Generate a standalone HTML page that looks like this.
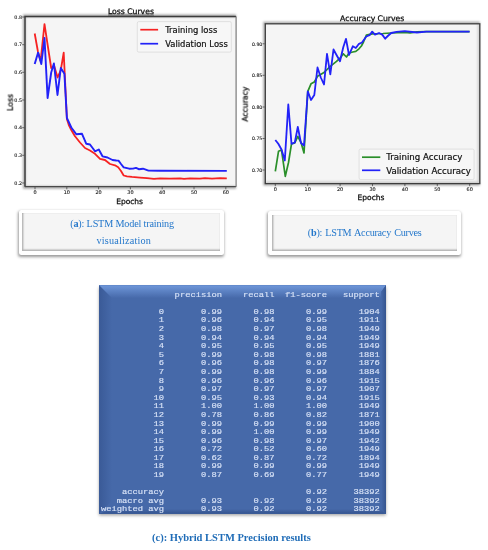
<!DOCTYPE html>
<html lang="en"><head><meta charset="utf-8"><title>LSTM figure</title>
<style>
html,body{margin:0;padding:0;background:#fff;}
body{width:488px;height:550px;position:relative;overflow:hidden;}
.cap{position:absolute;box-sizing:border-box;background:#fff;border-radius:2.5px;
 box-shadow:-0.3px 1.3px 3px rgba(0,0,0,.4);
 font-family:"Liberation Serif","DejaVu Serif",serif;color:#2377cb;text-align:center;font-size:9.4px;}
.cap i{position:absolute;left:3.7px;top:3px;right:3.7px;bottom:3.5px;background:#f5f5f5;box-shadow:inset 1.4px -1.4px 1.4px rgba(0,0,0,.27), inset -0.5px 0.5px 0.8px rgba(0,0,0,.06)}
.cap span{position:absolute;left:0;right:0;white-space:nowrap;filter:blur(.25px);font-size:10.2px}
#tbl{position:absolute;left:99px;top:285px;width:286.6px;height:228.8px;background:#4669a9;
 box-shadow:0 1.5px 3px rgba(0,0,0,.35);overflow:hidden}
#tbl pre{position:absolute;margin:0;left:1.7px;top:5.6px;font-family:"Liberation Mono","DejaVu Sans Mono",monospace;
 font-size:7.6px;line-height:8.6px;color:#d6e1f6;filter:blur(.38px);transform:scaleX(1.154);transform-origin:0 0;-webkit-text-stroke:0.16px #d6e1f6}
.bev{position:absolute}
#capc{position:absolute;left:152px;top:530.7px;white-space:nowrap;font-family:"Liberation Serif","DejaVu Serif",serif;font-weight:bold;font-size:10.5px;color:#1f6cb7;line-height:13px;filter:blur(.25px)}
</style></head><body>
<svg width="488" height="208" viewBox="0 0 488 208" style="position:absolute;left:0;top:0" font-family="'DejaVu Sans','Liberation Sans',sans-serif" fill="#111">
<defs>
<filter id="b" x="-5%" y="-5%" width="110%" height="110%"><feGaussianBlur stdDeviation="0.4"/></filter>
<filter id="b3" x="-20%" y="-20%" width="140%" height="140%"><feGaussianBlur stdDeviation="0.38"/></filter>
<filter id="b2" x="-5%" y="-5%" width="110%" height="110%"><feGaussianBlur stdDeviation="1.1"/></filter>
</defs>
<!-- loss chart -->
<rect x="25.0" y="16.5" width="211.1" height="170.2" fill="#f5f5f5"/>
<path d="M236.1 187.5 H24.2 V15.7 H236.1" fill="none" stroke="#000" stroke-opacity=".36" stroke-width="2.4" filter="url(#b2)"/>
<path d="M235.1 186.7 V16.5" fill="none" stroke="#000" stroke-opacity=".18" stroke-width="2" filter="url(#b2)"/>
<g filter="url(#b)">
<polyline points="34.7,33.5 38.0,52.0 40.6,61.0 44.5,24.2 47.8,46.0 51.2,68.0 54.2,66.0 57.6,77.5 60.8,70.0 63.7,52.6 66.9,119.0 68.8,125.0 71.3,130.0 75.0,136.3 80.0,142.5 85.0,148.0 90.0,150.5 95.0,153.8 100.0,158.8 105.0,160.0 110.0,164.0 115.0,165.3 118.2,167.3 121.0,171.0 123.7,175.5 127.0,176.3 132.0,176.9 140.0,177.6 147.0,178.2 154.0,178.8 160.0,178.4 170.0,178.7 180.0,178.3 184.0,178.9 190.0,178.3 200.0,178.6 205.0,178.1 212.0,178.6 220.0,178.2 226.8,178.4" fill="none" stroke="#f62222" stroke-width="1.8" stroke-linejoin="round"/>
<polyline points="34.7,64.0 38.1,52.6 41.3,64.0 44.5,38.0 47.6,98.0 51.2,72.5 53.9,63.5 57.5,95.0 60.8,68.0 64.4,73.8 66.9,118.0 71.3,127.5 76.3,134.3 82.0,133.8 86.3,143.8 90.0,144.5 95.0,151.3 98.8,149.5 102.5,156.3 107.5,157.5 112.5,160.0 116.3,160.5 118.5,160.6 121.0,164.0 123.7,167.3 129.2,168.7 133.0,168.6 136.0,167.9 138.8,169.2 143.0,168.7 148.5,170.6 160.0,170.8 226.8,170.9" fill="none" stroke="#2020f8" stroke-width="1.9" stroke-linejoin="round"/>
<path d="M25.0 186.7 V16.5 H236.1" fill="none" stroke="#3c3c3c" stroke-width="1.5"/>
<path d="M25.0 186.7 H236.1" fill="none" stroke="#4a4a4a" stroke-width="1.3"/><path d="M236.1 186.7 V16.5" fill="none" stroke="#707070" stroke-width="1.1"/>
<g stroke="#222" stroke-width="0.12" fill="#222" filter="url(#b3)">
<line x1="22.2" y1="17" x2="24.4" y2="17" stroke="#333" stroke-width="0.7"/><text x="22.0" y="18.7" font-size="4.8" text-anchor="end">0.8</text><line x1="22.2" y1="44.7" x2="24.4" y2="44.7" stroke="#333" stroke-width="0.7"/><text x="22.0" y="46.4" font-size="4.8" text-anchor="end">0.7</text><line x1="22.2" y1="72.3" x2="24.4" y2="72.3" stroke="#333" stroke-width="0.7"/><text x="22.0" y="74.0" font-size="4.8" text-anchor="end">0.6</text><line x1="22.2" y1="100" x2="24.4" y2="100" stroke="#333" stroke-width="0.7"/><text x="22.0" y="101.7" font-size="4.8" text-anchor="end">0.5</text><line x1="22.2" y1="127.7" x2="24.4" y2="127.7" stroke="#333" stroke-width="0.7"/><text x="22.0" y="129.4" font-size="4.8" text-anchor="end">0.4</text><line x1="22.2" y1="155.3" x2="24.4" y2="155.3" stroke="#333" stroke-width="0.7"/><text x="22.0" y="157.0" font-size="4.8" text-anchor="end">0.3</text><line x1="22.2" y1="183" x2="24.4" y2="183" stroke="#333" stroke-width="0.7"/><text x="22.0" y="184.7" font-size="4.8" text-anchor="end">0.2</text>
<line x1="35" y1="187.1" x2="35" y2="189.29999999999998" stroke="#333" stroke-width="0.7"/><text x="35" y="193.9" font-size="4.9" text-anchor="middle">0</text><line x1="66.8" y1="187.1" x2="66.8" y2="189.29999999999998" stroke="#333" stroke-width="0.7"/><text x="66.8" y="193.9" font-size="4.9" text-anchor="middle">10</text><line x1="98.6" y1="187.1" x2="98.6" y2="189.29999999999998" stroke="#333" stroke-width="0.7"/><text x="98.6" y="193.9" font-size="4.9" text-anchor="middle">20</text><line x1="130.4" y1="187.1" x2="130.4" y2="189.29999999999998" stroke="#333" stroke-width="0.7"/><text x="130.4" y="193.9" font-size="4.9" text-anchor="middle">30</text><line x1="162.2" y1="187.1" x2="162.2" y2="189.29999999999998" stroke="#333" stroke-width="0.7"/><text x="162.2" y="193.9" font-size="4.9" text-anchor="middle">40</text><line x1="194" y1="187.1" x2="194" y2="189.29999999999998" stroke="#333" stroke-width="0.7"/><text x="194" y="193.9" font-size="4.9" text-anchor="middle">50</text><line x1="225.8" y1="187.1" x2="225.8" y2="189.29999999999998" stroke="#333" stroke-width="0.7"/><text x="225.8" y="193.9" font-size="4.9" text-anchor="middle">60</text>
</g>
<g stroke="#111" stroke-width="0.28" filter="url(#b3)">
<rect x="108" y="13.6" width="46" height="2.4" fill="#000" fill-opacity=".22" stroke="none"/><text x="130.9" y="14.3" font-size="7.7" text-anchor="middle">Loss Curves</text>
<text x="129.6" y="203.8" font-size="7.5" text-anchor="middle">Epochs</text>
<text transform="translate(12.7,102.5) rotate(-90)" font-size="7.7" text-anchor="middle">Loss</text>
</g>
<rect x="137.3" y="21.6" width="94" height="30.5" rx="1.5" fill="#f7f7f7" stroke="#d6d6d6" stroke-width="0.7"/>
<line x1="140.3" y1="29.7" x2="158.1" y2="29.7" stroke="#f62222" stroke-width="1.7"/>
<line x1="140.3" y1="43.7" x2="158.1" y2="43.7" stroke="#2020f8" stroke-width="1.7"/>
<text x="165.2" y="32.8" font-size="8.42" stroke="#111" stroke-width="0.2">Training loss</text>
<text x="165.2" y="46.8" font-size="8.42" stroke="#111" stroke-width="0.2">Validation Loss</text>
</g>

<!-- accuracy chart -->
<path d="M479.8 184.4 H264.5 V23.0 H479.8" fill="none" stroke="#000" stroke-opacity=".36" stroke-width="2.4" filter="url(#b2)"/>
<rect x="265.3" y="23.8" width="214.5" height="159.79999999999998" fill="#f5f5f5"/>
<path d="M265.3 182.6 H478.8 V23.8" fill="none" stroke="#000" stroke-opacity=".2" stroke-width="2" filter="url(#b2)"/>
<g filter="url(#b)">
<polyline points="275.3,171.3 278.5,151.3 281.5,150.0 285.3,176.3 288.5,162.5 291.5,143.8 294.8,143.0 297.8,136.3 301.0,142.5 304.0,153.0 307.8,91.3 311.0,83.8 314.3,82.0 317.5,76.3 324.0,72.5 330.3,66.3 336.5,61.3 340.3,58.0 343.3,53.8 346.5,57.0 349.0,53.0 352.8,52.0 355.8,51.3 359.0,48.8 361.4,46.0 363.5,42.0 366.3,35.2 372.2,33.8 383.0,33.5 391.0,33.0 404.7,32.3 410.0,32.8 417.0,31.8 426.0,31.6 469.6,31.6" fill="none" stroke="#2a8f2a" stroke-width="1.7" stroke-linejoin="round"/>
<polyline points="275.3,140.0 278.3,143.8 281.5,149.5 284.8,160.5 288.3,104.5 291.5,143.8 294.8,142.5 297.8,127.0 301.0,143.0 304.0,145.5 307.8,91.3 311.0,100.0 314.3,95.0 317.5,67.5 320.8,77.5 324.0,84.5 327.0,53.8 330.3,74.3 333.5,49.5 336.8,55.5 340.0,61.3 343.2,47.5 346.0,38.8 349.0,55.0 352.8,46.3 355.8,48.0 359.0,43.8 362.0,42.5 366.3,36.5 369.5,35.2 372.2,31.6 375.0,34.6 379.0,33.0 382.2,34.6 385.2,38.7 388.3,35.5 391.2,33.0 396.6,31.9 404.7,31.1 416.9,32.5 426.3,31.6 469.6,31.6" fill="none" stroke="#2020f8" stroke-width="1.8" stroke-linejoin="round"/>
<rect x="265.3" y="23.8" width="214.5" height="159.79999999999998" fill="none" stroke="#3c3c3c" stroke-width="1.3"/>
<g stroke="#222" stroke-width="0.12" fill="#222" filter="url(#b3)">
<line x1="262.5" y1="43.8" x2="264.7" y2="43.8" stroke="#333" stroke-width="0.7"/><text x="262.3" y="45.5" font-size="4.6" text-anchor="end">0.90</text><line x1="262.5" y1="75.3" x2="264.7" y2="75.3" stroke="#333" stroke-width="0.7"/><text x="262.3" y="77.0" font-size="4.6" text-anchor="end">0.85</text><line x1="262.5" y1="107" x2="264.7" y2="107" stroke="#333" stroke-width="0.7"/><text x="262.3" y="108.7" font-size="4.6" text-anchor="end">0.80</text><line x1="262.5" y1="138.5" x2="264.7" y2="138.5" stroke="#333" stroke-width="0.7"/><text x="262.3" y="140.2" font-size="4.6" text-anchor="end">0.75</text><line x1="262.5" y1="170" x2="264.7" y2="170" stroke="#333" stroke-width="0.7"/><text x="262.3" y="171.7" font-size="4.6" text-anchor="end">0.70</text>
<line x1="275.3" y1="184.0" x2="275.3" y2="186.2" stroke="#333" stroke-width="0.7"/><text x="275.3" y="190.8" font-size="4.9" text-anchor="middle">0</text><line x1="307.7" y1="184.0" x2="307.7" y2="186.2" stroke="#333" stroke-width="0.7"/><text x="307.7" y="190.8" font-size="4.9" text-anchor="middle">10</text><line x1="340.1" y1="184.0" x2="340.1" y2="186.2" stroke="#333" stroke-width="0.7"/><text x="340.1" y="190.8" font-size="4.9" text-anchor="middle">20</text><line x1="372.5" y1="184.0" x2="372.5" y2="186.2" stroke="#333" stroke-width="0.7"/><text x="372.5" y="190.8" font-size="4.9" text-anchor="middle">30</text><line x1="404.9" y1="184.0" x2="404.9" y2="186.2" stroke="#333" stroke-width="0.7"/><text x="404.9" y="190.8" font-size="4.9" text-anchor="middle">40</text><line x1="437.3" y1="184.0" x2="437.3" y2="186.2" stroke="#333" stroke-width="0.7"/><text x="437.3" y="190.8" font-size="4.9" text-anchor="middle">50</text><line x1="469.7" y1="184.0" x2="469.7" y2="186.2" stroke="#333" stroke-width="0.7"/><text x="469.7" y="190.8" font-size="4.9" text-anchor="middle">60</text>
</g>
<g stroke="#111" stroke-width="0.28" filter="url(#b3)">
<text x="372.2" y="21.3" font-size="7.7" text-anchor="middle">Accuracy Curves</text>
<text x="371" y="199.8" font-size="7.5" text-anchor="middle">Epochs</text>
<text transform="translate(247.6,104.2) rotate(-90)" font-size="7.7" text-anchor="middle">Accuracy</text>
</g>
<rect x="359.1" y="149.1" width="115" height="30.5" rx="1.5" fill="#f7f7f7" stroke="#d6d6d6" stroke-width="0.7"/>
<line x1="362" y1="157.2" x2="380.3" y2="157.2" stroke="#2a8f2a" stroke-width="1.7"/>
<line x1="362" y1="170.3" x2="380.3" y2="170.3" stroke="#2020f8" stroke-width="1.7"/>
<text x="386.2" y="160.4" font-size="8.64" stroke="#111" stroke-width="0.2">Training Accuracy</text>
<text x="386.2" y="173.5" font-size="8.64" stroke="#111" stroke-width="0.2">Validation Accuracy</text>
</g>
</svg>
<div class="cap" style="left:18.7px;top:210.2px;width:205.1px;height:44.8px"><i></i><span style="top:7.9px;left:1.6px;line-height:12px;letter-spacing:-0.17px">(<b>a</b>): LSTM Model training</span><span style="top:24.6px;left:5px;line-height:12px;letter-spacing:0.2px">visualization</span></div>
<div class="cap" style="left:268.4px;top:211.4px;width:192.5px;height:43.3px"><i style="left:3.4px;top:3.4px;bottom:3.3px"></i><span style="top:15.3px;line-height:12px;letter-spacing:-0.26px;word-spacing:0.9px">(<b>b</b>): LSTM Accuracy Curves</span></div>
<div id="tbl">
<svg class="bev" width="287" height="229" viewBox="0 0 286.6 228.4" style="left:0;top:0">
<defs>
<linearGradient id="gt" x1="0" y1="0" x2="0" y2="1"><stop offset="0" stop-color="#6f97da"/><stop offset="1" stop-color="#4669a9"/></linearGradient>
<linearGradient id="gl" x1="0" y1="0" x2="1" y2="0"><stop offset="0" stop-color="#3a5a97"/><stop offset="1" stop-color="#4669a9"/></linearGradient>
<linearGradient id="gr" x1="1" y1="0" x2="0" y2="0"><stop offset="0" stop-color="#35548e"/><stop offset="1" stop-color="#4669a9"/></linearGradient>
<linearGradient id="gb" x1="0" y1="1" x2="0" y2="0"><stop offset="0" stop-color="#35548e"/><stop offset="1" stop-color="#4669a9"/></linearGradient>
</defs>
<polygon points="0,0 286.6,0 281.8,6.5 281.8,13 13,13" fill="url(#gt)"/>
<polygon points="0,0 13,13 13,215.4 0,228.4" fill="url(#gl)"/>
<polygon points="286.6,0 286.6,228.4 281.8,223.4 281.8,6.5" fill="url(#gr)"/>
<polygon points="0,228.4 286.6,228.4 281.6,223.4 13,223.4" fill="url(#gb)"/>
</svg>
<pre>              precision    recall  f1-score   support

           0       0.99      0.98      0.99      1904
           1       0.96      0.94      0.95      1911
           2       0.98      0.97      0.98      1949
           3       0.94      0.94      0.94      1949
           4       0.95      0.95      0.95      1949
           5       0.99      0.98      0.98      1881
           6       0.96      0.98      0.97      1876
           7       0.99      0.98      0.99      1884
           8       0.96      0.96      0.96      1915
           9       0.97      0.97      0.97      1907
          10       0.95      0.93      0.94      1915
          11       1.00      1.00      1.00      1949
          12       0.78      0.86      0.82      1871
          13       0.99      0.99      0.99      1900
          14       0.99      1.00      0.99      1949
          15       0.96      0.98      0.97      1942
          16       0.72      0.52      0.60      1949
          17       0.62      0.87      0.72      1894
          18       0.99      0.99      0.99      1949
          19       0.87      0.69      0.77      1949

    accuracy                           0.92     38392
   macro avg       0.93      0.92      0.92     38392
weighted avg       0.93      0.92      0.92     38392</pre>
</div>
<div id="capc">(c): Hybrid LSTM Precision results</div>
</body></html>
